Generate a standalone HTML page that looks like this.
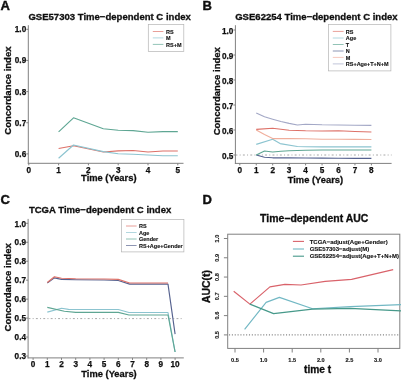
<!DOCTYPE html>
<html><head><meta charset="utf-8"><style>
html,body{margin:0;padding:0;background:#fff;}
body{width:401px;height:381px;overflow:hidden;}
svg{display:block;}
text{font-family:"Liberation Sans",sans-serif;font-weight:bold;stroke:#000;paint-order:stroke;}
</style></head><body>
<svg width="401" height="381" viewBox="0 0 401 381">
<defs><filter id="bl" x="0" y="0" width="100%" height="100%"><feGaussianBlur stdDeviation="0.35"/></filter></defs>
<rect width="401" height="381" fill="#fff"/>
<g filter="url(#bl)">
<rect width="401" height="381" fill="#fff"/>
<text x="0.40" y="9.60" font-size="13" text-anchor="start" fill="#111" stroke-width="0.39" >A</text>
<text x="28.40" y="19.50" font-size="9.55" text-anchor="start" fill="#111" stroke-width="0.29" >GSE57303 Time−dependent C index</text>
<line x1="28.30" y1="25.20" x2="28.30" y2="163.80" stroke="#808080" stroke-width="1" />
<line x1="27.80" y1="163.30" x2="183.50" y2="163.30" stroke="#808080" stroke-width="1" />
<line x1="26.30" y1="29.30" x2="28.30" y2="29.30" stroke="#808080" stroke-width="1" />
<text x="26.20" y="32.20" font-size="8.2" text-anchor="end" fill="#111" stroke-width="0.25" >1.0</text>
<line x1="26.30" y1="60.45" x2="28.30" y2="60.45" stroke="#808080" stroke-width="1" />
<text x="26.20" y="63.35" font-size="8.2" text-anchor="end" fill="#111" stroke-width="0.25" >0.9</text>
<line x1="26.30" y1="91.60" x2="28.30" y2="91.60" stroke="#808080" stroke-width="1" />
<text x="26.20" y="94.50" font-size="8.2" text-anchor="end" fill="#111" stroke-width="0.25" >0.8</text>
<line x1="26.30" y1="122.75" x2="28.30" y2="122.75" stroke="#808080" stroke-width="1" />
<text x="26.20" y="125.65" font-size="8.2" text-anchor="end" fill="#111" stroke-width="0.25" >0.7</text>
<line x1="26.30" y1="153.90" x2="28.30" y2="153.90" stroke="#808080" stroke-width="1" />
<text x="26.20" y="156.80" font-size="8.2" text-anchor="end" fill="#111" stroke-width="0.25" >0.6</text>
<line x1="28.80" y1="163.30" x2="28.80" y2="165.30" stroke="#808080" stroke-width="1" />
<text x="28.80" y="172.60" font-size="8.2" text-anchor="middle" fill="#111" stroke-width="0.25" >0</text>
<line x1="58.60" y1="163.30" x2="58.60" y2="165.30" stroke="#808080" stroke-width="1" />
<text x="58.60" y="172.60" font-size="8.2" text-anchor="middle" fill="#111" stroke-width="0.25" >1</text>
<line x1="88.40" y1="163.30" x2="88.40" y2="165.30" stroke="#808080" stroke-width="1" />
<text x="88.40" y="172.60" font-size="8.2" text-anchor="middle" fill="#111" stroke-width="0.25" >2</text>
<line x1="118.20" y1="163.30" x2="118.20" y2="165.30" stroke="#808080" stroke-width="1" />
<text x="118.20" y="172.60" font-size="8.2" text-anchor="middle" fill="#111" stroke-width="0.25" >3</text>
<line x1="148.00" y1="163.30" x2="148.00" y2="165.30" stroke="#808080" stroke-width="1" />
<text x="148.00" y="172.60" font-size="8.2" text-anchor="middle" fill="#111" stroke-width="0.25" >4</text>
<line x1="177.80" y1="163.30" x2="177.80" y2="165.30" stroke="#808080" stroke-width="1" />
<text x="177.80" y="172.60" font-size="8.2" text-anchor="middle" fill="#111" stroke-width="0.25" >5</text>
<text x="108.80" y="181.30" font-size="9.35" text-anchor="middle" fill="#111" stroke-width="0.28" >Time (Years)</text>
<text x="0" y="0" font-size="9.5" text-anchor="middle" fill="#111" stroke-width="0.28" transform="translate(11.20,90.60) rotate(-90) scale(1,1.05)">Concordance index</text>
<polyline points="58.60,148.50 73.50,145.80 103.30,152.00 118.20,150.90 133.10,150.50 148.00,152.00 162.90,151.00 177.80,151.00" fill="none" stroke="#DD7168" stroke-width="1.15" stroke-linejoin="round"/>
<polyline points="58.60,158.20 73.50,145.00 103.30,151.60 118.20,153.80 133.10,154.30 148.00,155.00 162.90,155.70 177.80,155.70" fill="none" stroke="#8CC4D0" stroke-width="1.15" stroke-linejoin="round"/>
<polyline points="58.60,131.90 73.50,117.80 103.30,128.70 118.20,130.20 133.10,130.60 148.00,132.20 162.90,131.60 177.80,131.60" fill="none" stroke="#5EA693" stroke-width="1.15" stroke-linejoin="round"/>
<rect x="148.3" y="24.5" width="35.50" height="26.90" fill="#fff" stroke="#b4b4b4" stroke-width="0.7"/>
<line x1="152.80" y1="31.50" x2="163.40" y2="31.50" stroke="#DD7168" stroke-width="0.9" opacity="0.75"/>
<text x="166.10" y="33.90" font-size="5.5" text-anchor="start" fill="#111" stroke-width="0.12" >RS</text>
<line x1="152.80" y1="37.90" x2="163.40" y2="37.90" stroke="#8CC4D0" stroke-width="0.9" opacity="0.75"/>
<text x="166.10" y="40.30" font-size="5.5" text-anchor="start" fill="#111" stroke-width="0.12" >M</text>
<line x1="152.80" y1="44.40" x2="163.40" y2="44.40" stroke="#5EA693" stroke-width="0.9" opacity="0.75"/>
<text x="166.10" y="46.80" font-size="5.5" text-anchor="start" fill="#111" stroke-width="0.12" >RS+M</text>
<line x1="235.50" y1="155.00" x2="391.60" y2="155.00" stroke="#8f8f8f" stroke-width="0.8" stroke-dasharray="1.9 2.25 1 2.25"/>
<text x="202.40" y="10.00" font-size="13" text-anchor="start" fill="#111" stroke-width="0.39" >B</text>
<text x="235.20" y="19.50" font-size="9.55" text-anchor="start" fill="#111" stroke-width="0.29" >GSE62254 Time−dependent C index</text>
<line x1="235.40" y1="25.20" x2="235.40" y2="163.90" stroke="#808080" stroke-width="1" />
<line x1="234.90" y1="163.40" x2="391.60" y2="163.40" stroke="#808080" stroke-width="1" />
<line x1="233.40" y1="30.00" x2="235.40" y2="30.00" stroke="#808080" stroke-width="1" />
<text x="233.30" y="33.50" font-size="8.2" text-anchor="end" fill="#111" stroke-width="0.25" >1.0</text>
<line x1="233.40" y1="55.00" x2="235.40" y2="55.00" stroke="#808080" stroke-width="1" />
<text x="233.30" y="58.50" font-size="8.2" text-anchor="end" fill="#111" stroke-width="0.25" >0.9</text>
<line x1="233.40" y1="80.00" x2="235.40" y2="80.00" stroke="#808080" stroke-width="1" />
<text x="233.30" y="83.50" font-size="8.2" text-anchor="end" fill="#111" stroke-width="0.25" >0.8</text>
<line x1="233.40" y1="105.00" x2="235.40" y2="105.00" stroke="#808080" stroke-width="1" />
<text x="233.30" y="108.50" font-size="8.2" text-anchor="end" fill="#111" stroke-width="0.25" >0.7</text>
<line x1="233.40" y1="130.00" x2="235.40" y2="130.00" stroke="#808080" stroke-width="1" />
<text x="233.30" y="133.50" font-size="8.2" text-anchor="end" fill="#111" stroke-width="0.25" >0.6</text>
<line x1="233.40" y1="155.00" x2="235.40" y2="155.00" stroke="#808080" stroke-width="1" />
<text x="233.30" y="158.50" font-size="8.2" text-anchor="end" fill="#111" stroke-width="0.25" >0.5</text>
<line x1="239.80" y1="163.40" x2="239.80" y2="165.40" stroke="#808080" stroke-width="1" />
<text x="239.80" y="173.00" font-size="8.2" text-anchor="middle" fill="#111" stroke-width="0.25" >0</text>
<line x1="256.25" y1="163.40" x2="256.25" y2="165.40" stroke="#808080" stroke-width="1" />
<text x="256.25" y="173.00" font-size="8.2" text-anchor="middle" fill="#111" stroke-width="0.25" >1</text>
<line x1="272.70" y1="163.40" x2="272.70" y2="165.40" stroke="#808080" stroke-width="1" />
<text x="272.70" y="173.00" font-size="8.2" text-anchor="middle" fill="#111" stroke-width="0.25" >2</text>
<line x1="289.15" y1="163.40" x2="289.15" y2="165.40" stroke="#808080" stroke-width="1" />
<text x="289.15" y="173.00" font-size="8.2" text-anchor="middle" fill="#111" stroke-width="0.25" >3</text>
<line x1="305.60" y1="163.40" x2="305.60" y2="165.40" stroke="#808080" stroke-width="1" />
<text x="305.60" y="173.00" font-size="8.2" text-anchor="middle" fill="#111" stroke-width="0.25" >4</text>
<line x1="322.05" y1="163.40" x2="322.05" y2="165.40" stroke="#808080" stroke-width="1" />
<text x="322.05" y="173.00" font-size="8.2" text-anchor="middle" fill="#111" stroke-width="0.25" >5</text>
<line x1="338.50" y1="163.40" x2="338.50" y2="165.40" stroke="#808080" stroke-width="1" />
<text x="338.50" y="173.00" font-size="8.2" text-anchor="middle" fill="#111" stroke-width="0.25" >6</text>
<line x1="354.95" y1="163.40" x2="354.95" y2="165.40" stroke="#808080" stroke-width="1" />
<text x="354.95" y="173.00" font-size="8.2" text-anchor="middle" fill="#111" stroke-width="0.25" >7</text>
<line x1="371.40" y1="163.40" x2="371.40" y2="165.40" stroke="#808080" stroke-width="1" />
<text x="371.40" y="173.00" font-size="8.2" text-anchor="middle" fill="#111" stroke-width="0.25" >8</text>
<text x="315.40" y="183.10" font-size="9.35" text-anchor="middle" fill="#111" stroke-width="0.28" >Time (Years)</text>
<text x="0" y="0" font-size="9.5" text-anchor="middle" fill="#111" stroke-width="0.28" transform="translate(220.20,91.25) rotate(-90) scale(1,1.05)">Concordance index</text>
<polyline points="256.25,155.00 264.48,157.20 272.70,157.80 289.15,157.90 305.60,158.00 322.05,158.10 338.50,158.20 354.95,158.30 371.40,158.30" fill="none" stroke="#56628F" stroke-width="1.15" stroke-linejoin="round"/>
<polyline points="256.25,155.00 264.48,151.00 272.70,152.00 280.93,151.30 289.15,150.80 305.60,150.30 322.05,150.00 338.50,150.00 354.95,150.00 371.40,150.00" fill="none" stroke="#5EA693" stroke-width="1.15" stroke-linejoin="round"/>
<polyline points="256.25,144.40 272.70,139.20 280.10,143.60 297.38,146.50 305.60,146.70 322.05,146.80 338.50,146.90 354.95,146.80 371.40,146.80" fill="none" stroke="#8CC4D0" stroke-width="1.15" stroke-linejoin="round"/>
<polyline points="256.25,129.90 264.48,134.60 272.70,138.60 289.15,138.50 305.60,138.80 322.05,139.20 338.50,139.20 354.95,139.40 371.40,139.50" fill="none" stroke="#F0AE9C" stroke-width="1.15" stroke-linejoin="round"/>
<polyline points="256.25,129.40 272.70,128.30 289.15,130.20 305.60,130.80 322.05,131.00 338.50,130.80 354.95,131.50 371.40,132.00" fill="none" stroke="#DD7168" stroke-width="1.15" stroke-linejoin="round"/>
<polyline points="256.25,112.90 264.48,116.80 272.70,119.20 280.93,121.50 289.15,123.40 297.38,125.00 305.60,124.20 322.05,124.80 338.50,125.00 354.95,125.20 371.40,125.40" fill="none" stroke="#A3A8C6" stroke-width="1.15" stroke-linejoin="round"/>
<rect x="328.4" y="24.4" width="62.50" height="46.50" fill="#fff" stroke="#b4b4b4" stroke-width="0.7"/>
<line x1="332.80" y1="31.40" x2="343.60" y2="31.40" stroke="#DD7168" stroke-width="0.9" opacity="0.75"/>
<text x="345.80" y="33.80" font-size="5.5" text-anchor="start" fill="#111" stroke-width="0.12" >RS</text>
<line x1="332.80" y1="38.00" x2="343.60" y2="38.00" stroke="#8CC4D0" stroke-width="0.9" opacity="0.75"/>
<text x="345.80" y="40.40" font-size="5.5" text-anchor="start" fill="#111" stroke-width="0.12" >Age</text>
<line x1="332.80" y1="44.50" x2="343.60" y2="44.50" stroke="#5EA693" stroke-width="0.9" opacity="0.75"/>
<text x="345.80" y="46.90" font-size="5.5" text-anchor="start" fill="#111" stroke-width="0.12" >T</text>
<line x1="332.80" y1="51.00" x2="343.60" y2="51.00" stroke="#56628F" stroke-width="0.9" opacity="0.75"/>
<text x="345.80" y="53.40" font-size="5.5" text-anchor="start" fill="#111" stroke-width="0.12" >N</text>
<line x1="332.80" y1="57.40" x2="343.60" y2="57.40" stroke="#F0AE9C" stroke-width="0.9" opacity="0.75"/>
<text x="345.80" y="59.80" font-size="5.5" text-anchor="start" fill="#111" stroke-width="0.12" >M</text>
<line x1="332.80" y1="63.90" x2="343.60" y2="63.90" stroke="#A3A8C6" stroke-width="0.9" opacity="0.75"/>
<text x="345.80" y="66.30" font-size="5.5" text-anchor="start" fill="#111" stroke-width="0.12" >RS+Age+T+N+M</text>
<line x1="28.50" y1="318.60" x2="183.80" y2="318.60" stroke="#8f8f8f" stroke-width="0.8" stroke-dasharray="1.9 2.25 1 2.25"/>
<text x="0.40" y="204.30" font-size="13" text-anchor="start" fill="#111" stroke-width="0.39" >C</text>
<text x="28.90" y="213.30" font-size="9.55" text-anchor="start" fill="#111" stroke-width="0.29" >TCGA Time−dependent C index</text>
<line x1="28.10" y1="218.90" x2="28.10" y2="358.40" stroke="#808080" stroke-width="1" />
<line x1="27.60" y1="357.90" x2="183.80" y2="357.90" stroke="#808080" stroke-width="1" />
<line x1="26.10" y1="223.30" x2="28.10" y2="223.30" stroke="#808080" stroke-width="1" />
<text x="26.00" y="226.50" font-size="8.2" text-anchor="end" fill="#111" stroke-width="0.25" >1.0</text>
<line x1="26.10" y1="242.26" x2="28.10" y2="242.26" stroke="#808080" stroke-width="1" />
<text x="26.00" y="245.46" font-size="8.2" text-anchor="end" fill="#111" stroke-width="0.25" >0.9</text>
<line x1="26.10" y1="261.22" x2="28.10" y2="261.22" stroke="#808080" stroke-width="1" />
<text x="26.00" y="264.42" font-size="8.2" text-anchor="end" fill="#111" stroke-width="0.25" >0.8</text>
<line x1="26.10" y1="280.18" x2="28.10" y2="280.18" stroke="#808080" stroke-width="1" />
<text x="26.00" y="283.38" font-size="8.2" text-anchor="end" fill="#111" stroke-width="0.25" >0.7</text>
<line x1="26.10" y1="299.14" x2="28.10" y2="299.14" stroke="#808080" stroke-width="1" />
<text x="26.00" y="302.34" font-size="8.2" text-anchor="end" fill="#111" stroke-width="0.25" >0.6</text>
<line x1="26.10" y1="318.10" x2="28.10" y2="318.10" stroke="#808080" stroke-width="1" />
<text x="26.00" y="321.30" font-size="8.2" text-anchor="end" fill="#111" stroke-width="0.25" >0.5</text>
<line x1="26.10" y1="337.06" x2="28.10" y2="337.06" stroke="#808080" stroke-width="1" />
<text x="26.00" y="340.26" font-size="8.2" text-anchor="end" fill="#111" stroke-width="0.25" >0.4</text>
<line x1="26.10" y1="356.02" x2="28.10" y2="356.02" stroke="#808080" stroke-width="1" />
<text x="26.00" y="359.22" font-size="8.2" text-anchor="end" fill="#111" stroke-width="0.25" >0.3</text>
<line x1="33.10" y1="357.90" x2="33.10" y2="359.90" stroke="#808080" stroke-width="1" />
<text x="33.10" y="367.00" font-size="8.2" text-anchor="middle" fill="#111" stroke-width="0.25" >0</text>
<line x1="47.30" y1="357.90" x2="47.30" y2="359.90" stroke="#808080" stroke-width="1" />
<text x="47.30" y="367.00" font-size="8.2" text-anchor="middle" fill="#111" stroke-width="0.25" >1</text>
<line x1="61.50" y1="357.90" x2="61.50" y2="359.90" stroke="#808080" stroke-width="1" />
<text x="61.50" y="367.00" font-size="8.2" text-anchor="middle" fill="#111" stroke-width="0.25" >2</text>
<line x1="75.70" y1="357.90" x2="75.70" y2="359.90" stroke="#808080" stroke-width="1" />
<text x="75.70" y="367.00" font-size="8.2" text-anchor="middle" fill="#111" stroke-width="0.25" >3</text>
<line x1="89.90" y1="357.90" x2="89.90" y2="359.90" stroke="#808080" stroke-width="1" />
<text x="89.90" y="367.00" font-size="8.2" text-anchor="middle" fill="#111" stroke-width="0.25" >4</text>
<line x1="104.10" y1="357.90" x2="104.10" y2="359.90" stroke="#808080" stroke-width="1" />
<text x="104.10" y="367.00" font-size="8.2" text-anchor="middle" fill="#111" stroke-width="0.25" >5</text>
<line x1="118.30" y1="357.90" x2="118.30" y2="359.90" stroke="#808080" stroke-width="1" />
<text x="118.30" y="367.00" font-size="8.2" text-anchor="middle" fill="#111" stroke-width="0.25" >6</text>
<line x1="132.50" y1="357.90" x2="132.50" y2="359.90" stroke="#808080" stroke-width="1" />
<text x="132.50" y="367.00" font-size="8.2" text-anchor="middle" fill="#111" stroke-width="0.25" >7</text>
<line x1="146.70" y1="357.90" x2="146.70" y2="359.90" stroke="#808080" stroke-width="1" />
<text x="146.70" y="367.00" font-size="8.2" text-anchor="middle" fill="#111" stroke-width="0.25" >8</text>
<line x1="160.90" y1="357.90" x2="160.90" y2="359.90" stroke="#808080" stroke-width="1" />
<text x="160.90" y="367.00" font-size="8.2" text-anchor="middle" fill="#111" stroke-width="0.25" >9</text>
<line x1="175.10" y1="357.90" x2="175.10" y2="359.90" stroke="#808080" stroke-width="1" />
<text x="175.10" y="367.00" font-size="8.2" text-anchor="middle" fill="#111" stroke-width="0.25" >10</text>
<text x="109.00" y="377.20" font-size="9.35" text-anchor="middle" fill="#111" stroke-width="0.28" >Time (Years)</text>
<text x="0" y="0" font-size="9.5" text-anchor="middle" fill="#111" stroke-width="0.28" transform="translate(11.20,287.35) rotate(-90) scale(1,1.05)">Concordance index</text>
<polyline points="47.30,283.00 54.40,277.90 61.50,279.40 75.70,279.70 104.10,280.00 118.30,280.50 129.66,284.10 168.00,284.10 175.10,334.20" fill="none" stroke="#56628F" stroke-width="1.15" stroke-linejoin="round"/>
<polyline points="47.30,282.50 54.40,276.70 61.50,278.30 75.70,278.80 104.10,279.00 118.30,279.40 129.66,283.00 168.00,283.00" fill="none" stroke="#DD7168" stroke-width="1.15" stroke-linejoin="round"/>
<polyline points="47.30,312.10 61.50,308.30 68.60,309.40 118.30,309.50 128.95,312.50 168.00,312.50 175.10,352.00" fill="none" stroke="#8CC4D0" stroke-width="1.15" stroke-linejoin="round"/>
<polyline points="47.30,307.40 64.34,311.20 75.70,312.40 118.30,312.40 128.95,315.00 168.00,315.00 175.10,352.00" fill="none" stroke="#5EA693" stroke-width="1.15" stroke-linejoin="round"/>
<rect x="121.6" y="219.4" width="62.30" height="32.50" fill="#fff" stroke="#b4b4b4" stroke-width="0.7"/>
<line x1="126.00" y1="226.00" x2="136.60" y2="226.00" stroke="#DD7168" stroke-width="0.9" opacity="0.75"/>
<text x="139.00" y="228.40" font-size="5.5" text-anchor="start" fill="#111" stroke-width="0.12" >RS</text>
<line x1="126.00" y1="232.50" x2="136.60" y2="232.50" stroke="#8CC4D0" stroke-width="0.9" opacity="0.75"/>
<text x="139.00" y="234.90" font-size="5.5" text-anchor="start" fill="#111" stroke-width="0.12" >Age</text>
<line x1="126.00" y1="239.00" x2="136.60" y2="239.00" stroke="#5EA693" stroke-width="0.9" opacity="0.75"/>
<text x="139.00" y="241.40" font-size="5.5" text-anchor="start" fill="#111" stroke-width="0.12" >Gender</text>
<line x1="126.00" y1="245.50" x2="136.60" y2="245.50" stroke="#56628F" stroke-width="0.9" opacity="0.75"/>
<text x="139.00" y="247.90" font-size="5.5" text-anchor="start" fill="#111" stroke-width="0.12" >RS+Age+Gender</text>
<text x="202.40" y="204.30" font-size="13" text-anchor="start" fill="#111" stroke-width="0.39" >D</text>
<text x="314.20" y="222.20" font-size="10.45" text-anchor="middle" fill="#111" stroke-width="0.31" >Time−dependent AUC</text>
<line x1="229.00" y1="334.90" x2="400.00" y2="334.90" stroke="#6a6a6a" stroke-width="1" stroke-dasharray="1.1 1.75"/>
<rect x="227.7" y="234.2" width="172.1" height="114.2" fill="none" stroke="#808080" stroke-width="1"/>
<line x1="223.90" y1="238.50" x2="227.70" y2="238.50" stroke="#808080" stroke-width="1" />
<text x="0" y="0" font-size="5.6" text-anchor="middle" fill="#111" stroke-width="0.12" transform="translate(218.80,238.50) rotate(-90)">1.0</text>
<line x1="223.90" y1="257.78" x2="227.70" y2="257.78" stroke="#808080" stroke-width="1" />
<text x="0" y="0" font-size="5.6" text-anchor="middle" fill="#111" stroke-width="0.12" transform="translate(218.80,257.78) rotate(-90)">0.9</text>
<line x1="223.90" y1="277.06" x2="227.70" y2="277.06" stroke="#808080" stroke-width="1" />
<text x="0" y="0" font-size="5.6" text-anchor="middle" fill="#111" stroke-width="0.12" transform="translate(218.80,277.06) rotate(-90)">0.8</text>
<line x1="223.90" y1="296.34" x2="227.70" y2="296.34" stroke="#808080" stroke-width="1" />
<text x="0" y="0" font-size="5.6" text-anchor="middle" fill="#111" stroke-width="0.12" transform="translate(218.80,296.34) rotate(-90)">0.7</text>
<line x1="223.90" y1="315.62" x2="227.70" y2="315.62" stroke="#808080" stroke-width="1" />
<text x="0" y="0" font-size="5.6" text-anchor="middle" fill="#111" stroke-width="0.12" transform="translate(218.80,315.62) rotate(-90)">0.6</text>
<line x1="223.90" y1="334.90" x2="227.70" y2="334.90" stroke="#808080" stroke-width="1" />
<text x="0" y="0" font-size="5.6" text-anchor="middle" fill="#111" stroke-width="0.12" transform="translate(218.80,334.90) rotate(-90)">0.5</text>
<line x1="235.00" y1="348.40" x2="235.00" y2="352.50" stroke="#808080" stroke-width="1" />
<text x="235.00" y="361.60" font-size="5.6" text-anchor="middle" fill="#111" stroke-width="0.12" >0.5</text>
<line x1="263.60" y1="348.40" x2="263.60" y2="352.50" stroke="#808080" stroke-width="1" />
<text x="263.60" y="361.60" font-size="5.6" text-anchor="middle" fill="#111" stroke-width="0.12" >1.0</text>
<line x1="292.20" y1="348.40" x2="292.20" y2="352.50" stroke="#808080" stroke-width="1" />
<text x="292.20" y="361.60" font-size="5.6" text-anchor="middle" fill="#111" stroke-width="0.12" >1.5</text>
<line x1="320.80" y1="348.40" x2="320.80" y2="352.50" stroke="#808080" stroke-width="1" />
<text x="320.80" y="361.60" font-size="5.6" text-anchor="middle" fill="#111" stroke-width="0.12" >2.0</text>
<line x1="349.40" y1="348.40" x2="349.40" y2="352.50" stroke="#808080" stroke-width="1" />
<text x="349.40" y="361.60" font-size="5.6" text-anchor="middle" fill="#111" stroke-width="0.12" >2.5</text>
<line x1="378.00" y1="348.40" x2="378.00" y2="352.50" stroke="#808080" stroke-width="1" />
<text x="378.00" y="361.60" font-size="5.6" text-anchor="middle" fill="#111" stroke-width="0.12" >3.0</text>
<text x="317.60" y="372.60" font-size="10.2" text-anchor="middle" fill="#111" stroke-width="0.31" >time t</text>
<text x="0" y="0" font-size="10.4" text-anchor="middle" fill="#111" stroke-width="0.31" transform="translate(210.20,286.50) rotate(-90) scale(1,1.04)">AUC(t)</text>
<polyline points="233.70,291.20 249.90,304.10 269.90,286.90 284.90,284.40 301.00,285.00 325.20,281.40 351.60,279.40 393.20,269.60" fill="none" stroke="#D9626A" stroke-width="1.15" stroke-linejoin="round"/>
<polyline points="244.60,329.30 266.10,302.40 279.40,297.40 312.60,308.70 350.40,306.60 401.00,304.60" fill="none" stroke="#72B8C4" stroke-width="1.15" stroke-linejoin="round"/>
<polyline points="249.90,304.10 273.60,313.60 312.30,309.10 350.00,308.40 401.00,310.90" fill="none" stroke="#46998A" stroke-width="1.15" stroke-linejoin="round"/>
<line x1="292.90" y1="241.40" x2="304.00" y2="241.40" stroke="#D9626A" stroke-width="1.1" />
<text x="309.70" y="243.60" font-size="6.0" text-anchor="start" fill="#111" stroke-width="0.12" >TCGA−adjust(Age+Gender)</text>
<line x1="292.90" y1="249.00" x2="304.00" y2="249.00" stroke="#72B8C4" stroke-width="1.1" />
<text x="309.70" y="251.20" font-size="6.0" text-anchor="start" fill="#111" stroke-width="0.12" >GSE57303−adjust(M)</text>
<line x1="292.90" y1="256.20" x2="304.00" y2="256.20" stroke="#46998A" stroke-width="1.1" />
<text x="309.70" y="258.40" font-size="6.0" text-anchor="start" fill="#111" stroke-width="0.12" >GSE62254−adjust(Age+T+N+M)</text>
</g>
</svg>
</body></html>
